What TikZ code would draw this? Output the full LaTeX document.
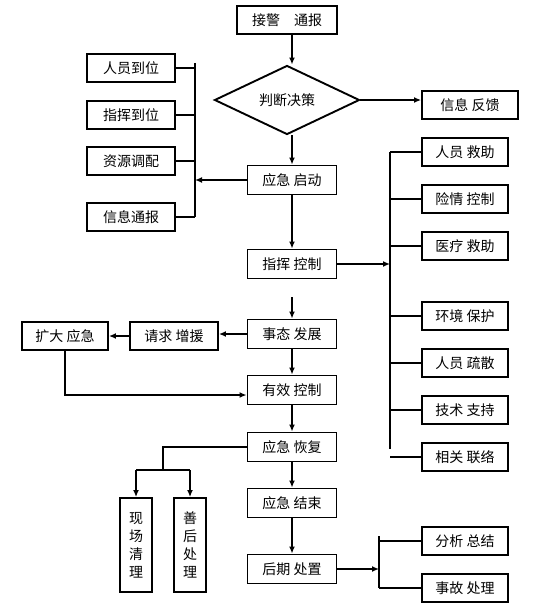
\documentclass[tikz,border=0pt]{standalone}
\usepackage{fontspec}
\setmainfont{Noto Sans CJK SC}
\usepackage{tikz}
\usetikzlibrary{arrows.meta,positioning,shapes.geometric}
\tikzset{
  box/.style={draw,line width=1.9pt,minimum width=89pt,minimum height=29pt,inner sep=0pt,font=\fontsize{14}{18}\selectfont},
  sbox/.style={box,minimum width=86pt,minimum height=28pt},
  vbox/.style={box,minimum width=32pt,minimum height=94pt,align=center},
  ln/.style={line width=1.9pt},
  ar/.style={-{Latex[length=7pt,width=6pt]},line width=1.9pt}
}
\begin{document}
\begin{tikzpicture}[x=1pt,y=-1pt]
\useasboundingbox (0,0) rectangle (559,610);
% main column
\node[box,minimum width=100pt,minimum height=28pt] (alarm) at (287,20) {接警\quad 通报};
\node[draw,diamond,line width=1.9pt,minimum width=145pt,minimum height=56pt,inner sep=0pt,font=\fontsize{14}{18}\selectfont] (judge) at (287,100) {判断决策};
\node[box] (start) at (292,180) {应急\ 启动};
\node[box] (cmd) at (292,264) {指挥\ 控制};
\node[box] (dev) at (292,334) {事态\ 发展};
\node[box] (eff) at (292,390) {有效\ 控制};
\node[box] (rec) at (292,447) {应急\ 恢复};
\node[box] (fin) at (292,503) {应急\ 结束};
\node[box] (post) at (292,569) {后期\ 处置};
\node[sbox,minimum width=96pt] (feed) at (470,105) {信息\ 反馈};
% left group
\node[sbox,minimum width=88pt] (staff) at (131,68) {人员到位};
\node[sbox,minimum width=88pt] (lead) at (131,115) {指挥到位};
\node[sbox,minimum width=88pt] (res) at (131,161) {资源调配};
\node[sbox,minimum width=88pt] (info) at (131,217) {信息通报};
% right group
\node[sbox] (rescue) at (465,152) {人员\ 救助};
\node[sbox] (risk) at (465,199) {险情\ 控制};
\node[sbox] (med) at (465,246) {医疗\ 救助};
\node[sbox] (env) at (465,316) {环境\ 保护};
\node[sbox] (evac) at (465,363) {人员\ 疏散};
\node[sbox] (tech) at (465,410) {技术\ 支持};
\node[sbox] (liais) at (465,457) {相关\ 联络};
% escalation
\node[sbox,minimum width=88pt] (req) at (174,336) {请求\ 增援};
\node[sbox] (expand) at (65,336) {扩大\ 应急};
% recovery
\node[vbox] (site) at (136,545) {现\\场\\清\\理};
\node[vbox] (aftm) at (190,545) {善\\后\\处\\理};
% summary
\node[sbox] (sum) at (465,541) {分析\ 总结};
\node[sbox] (acc) at (465,588) {事故\ 处理};
\coordinate (lbus) at (195,63);
\coordinate (rbus) at (390,152);
\coordinate (bbus) at (379,536);
\coordinate (devin) at (292,297);
\coordinate (rj) at (163,470);
\draw[ar] (alarm.south -| start) -- (judge.north -| start);
\draw[ar] (judge.south -| start) -- (start.north);
\draw[ar] (judge.east) -- (judge.east -| feed.west);
\draw[ar] (start) -- (cmd);
\draw[ar] (devin) -- (dev.north);
\draw[ar] (dev) -- (eff);
\draw[ar] (eff) -- (rec);
\draw[ar] (rec) -- (fin);
\draw[ar] (fin) -- (post);
\draw[ln] (lbus) -- (lbus |- info.east);
\foreach \n in {staff,lead,res,info} \draw[ln] (\n.east) -- (\n.east -| lbus);
\draw[ar] (start.west) -- (start.west -| lbus);
\draw[ln] (rbus) -- (rbus |- 0,449);
\foreach \n in {rescue,risk,med,env,evac,tech,liais} \draw[ln] (\n.west) -- (\n.west -| rbus);
\draw[ar] (cmd.east) -- (cmd.east -| rbus);
\draw[ar] (dev.west) -- (dev.west -| req.east);
\draw[ar] (req.west) -- (expand.east);
\draw[ar] (expand.south) |- ([yshift=-5pt]eff.west);
\draw[ln] (rec.west) -| (rj);
\draw[ln] (site.north |- rj) -- (aftm.north |- rj);
\draw[ar] (site.north |- rj) -- (site.north);
\draw[ar] (aftm.north |- rj) -- (aftm.north);
\draw[ln] (bbus) -- (bbus |- acc.west);
\foreach \n in {sum,acc} \draw[ln] (\n.west) -- (\n.west -| bbus);
\draw[ar] (post.east) -- (post.east -| bbus);
\end{tikzpicture}
\end{document}
